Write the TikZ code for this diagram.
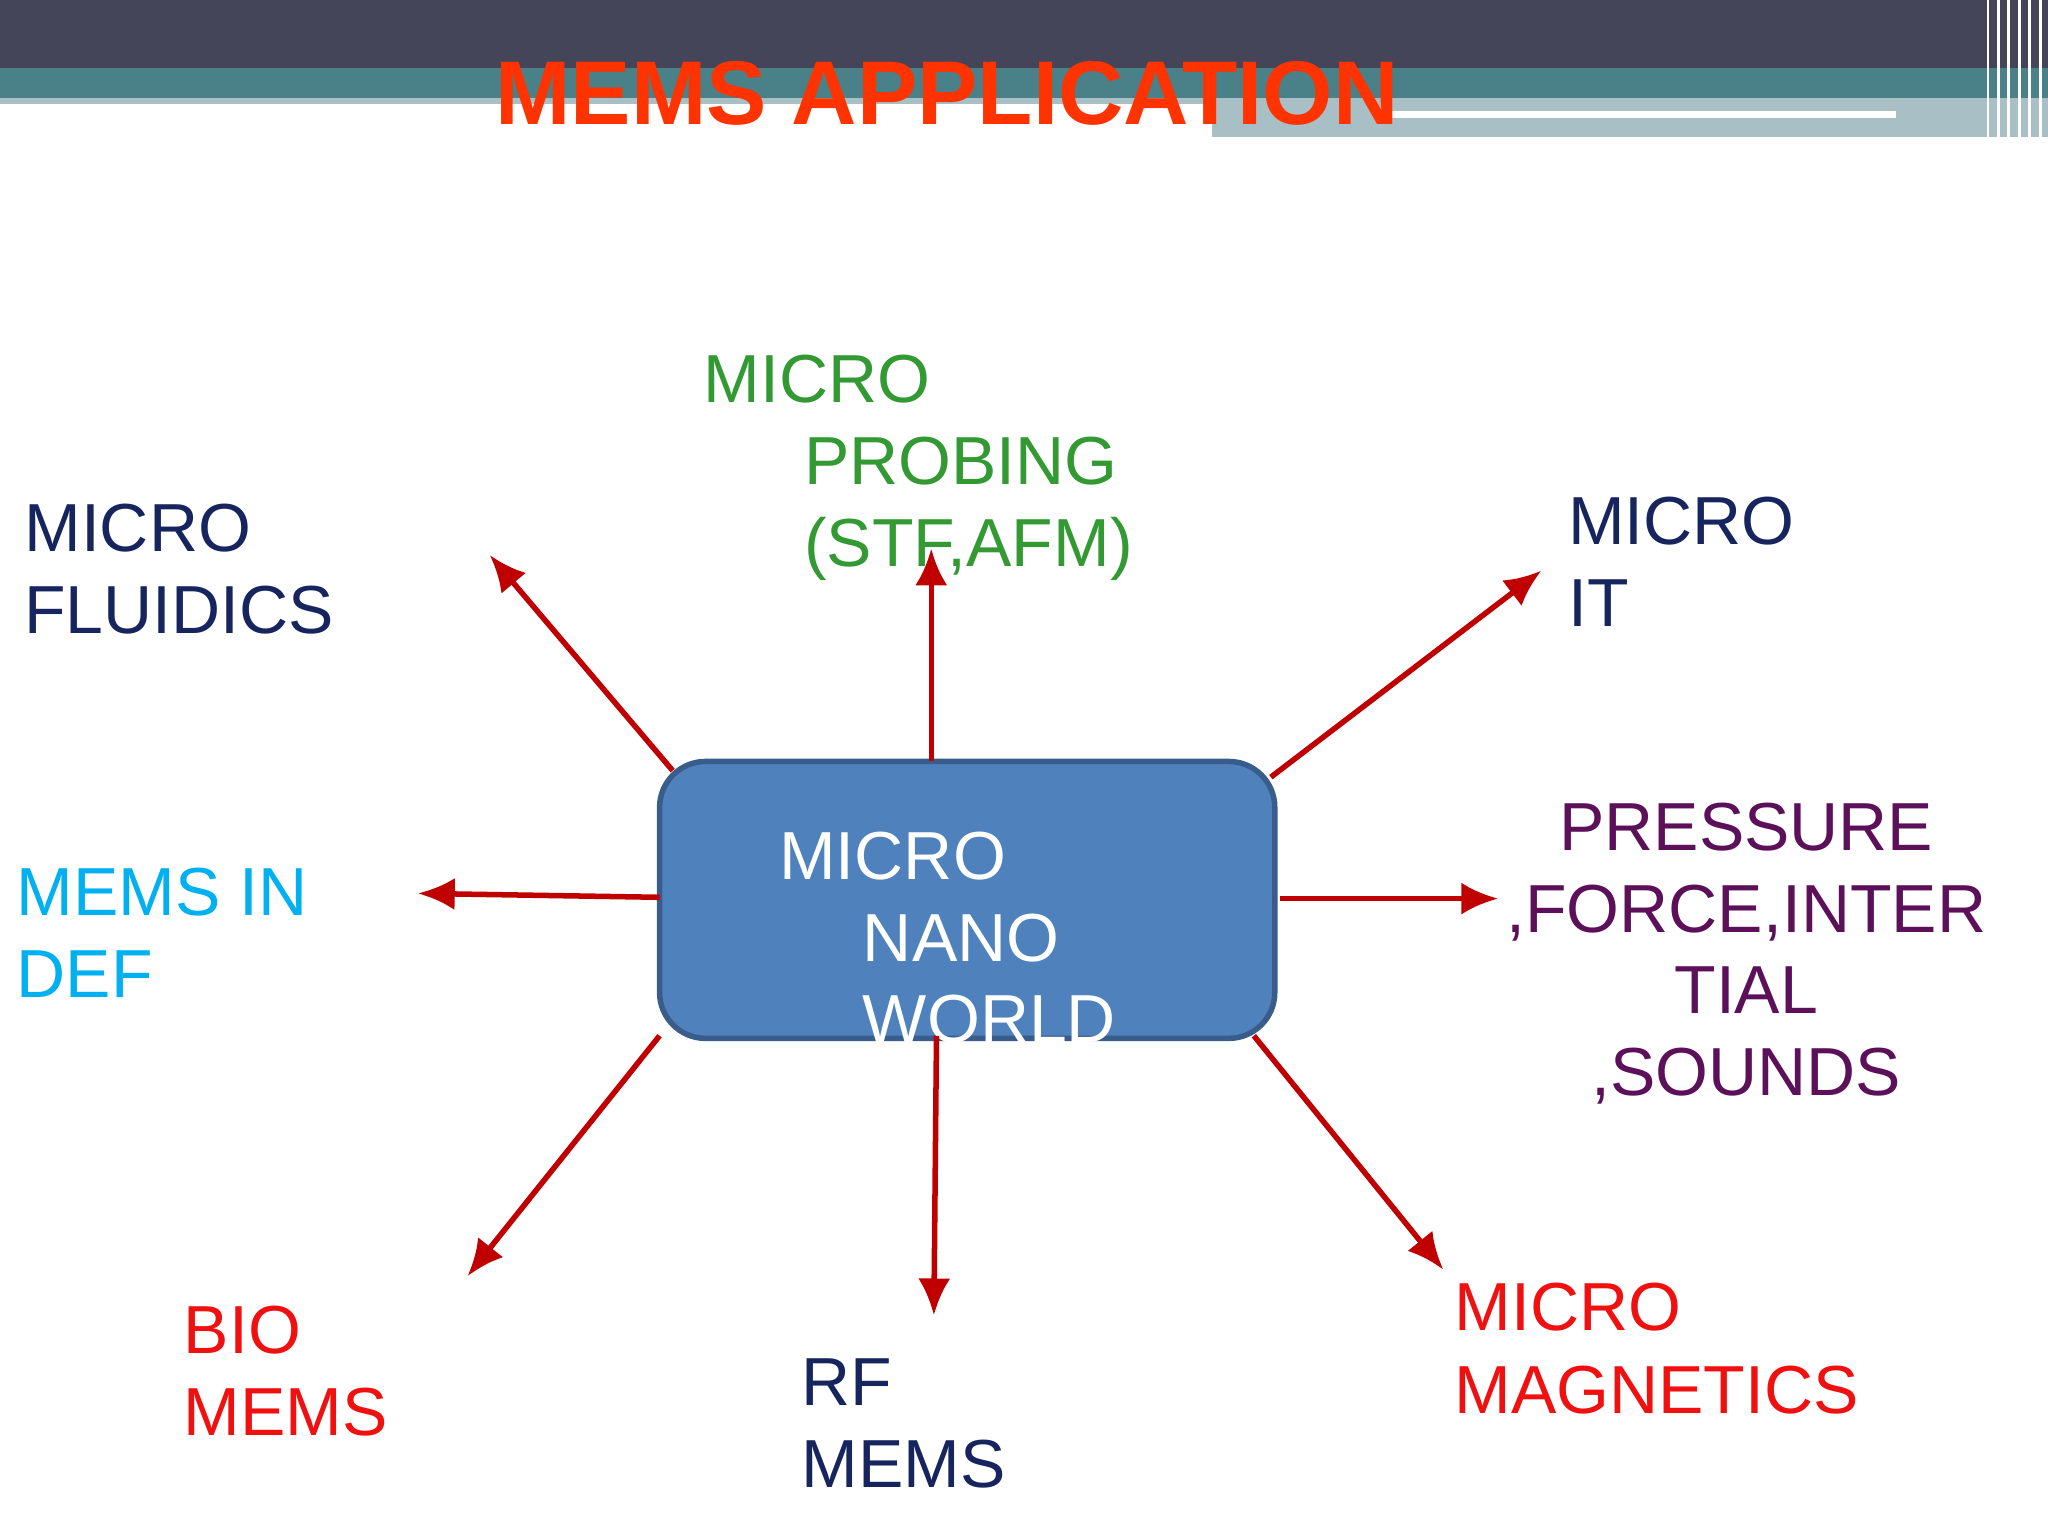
\documentclass[tikz,border=0pt]{standalone}
\usetikzlibrary{arrows.meta}
\usepackage{fontspec}
\setmainfont{Liberation Sans}
\definecolor{hdark}{HTML}{45455A}
\definecolor{hteal}{HTML}{4A8088}
\definecolor{hlight}{HTML}{A8BFC5}
\definecolor{boxfill}{HTML}{4F81BD}
\definecolor{boxline}{HTML}{385D8A}
\definecolor{arr}{HTML}{C00000}
\definecolor{cgreen}{HTML}{339933}
\definecolor{cnavy}{HTML}{17255E}
\definecolor{cpurple}{HTML}{5C1059}
\definecolor{ccyan}{HTML}{00B0F0}
\definecolor{cred}{HTML}{F01010}
\definecolor{ctitle}{HTML}{FF3300}
\begin{document}
\begin{tikzpicture}[x=0.01cm,y=-0.01cm,
  lbl/.style={anchor=base west,inner sep=0pt,font=\fontsize{14.8}{17}\selectfont},
  lblc/.style={anchor=base,inner sep=0pt,font=\fontsize{14.8}{17}\selectfont},
  arrw/.style={draw=arr,line width=1.2pt,-{Latex[length=8pt,width=7pt]}}]
\useasboundingbox (0,0) rectangle (1568,1176);
\fill[white] (0,0) rectangle (1568,1176);
% header
\fill[hdark] (0,0) rectangle (1568,52);
\fill[hteal] (0,52) rectangle (1568,75);
\fill[hlight] (0,75) rectangle (1568,80);
\fill[hlight] (928,80) rectangle (1568,105);
\fill[white] (1060,85) rectangle (1452,90);
\foreach \xx in {1522,1530,1538,1546,1554,1562}
  \draw[white,line width=0.6pt] (\xx,0) -- (\xx,105);
\node[anchor=base,inner sep=0pt,text=ctitle,font=\fontsize{19.7}{22}\selectfont\bfseries] (title) at (725,95) {MEMS APPLICATION};
% box
\fill[boxfill,draw=boxline,line width=1.2pt,rounded corners=10pt] (505,583) rectangle (976,795);
\coordinate (box) at (740,689);
\node[lbl,text=white] (b1) at (596,673) {MICRO};
\node[lbl,text=white] (b2) at (660,736) {NANO};
\node[lbl,text=white] (b3) at (660,798) {WORLD};
% labels
\node[lbl,text=cgreen] (g1) at (538,308) {MICRO};
\node[lbl,text=cgreen] (g2) at (615,371) {PROBING};
\node[lbl,text=cgreen] (g3) at (615,434) {(STF,AFM)};
\node[lbl,text=cnavy] (f1) at (18,422) {MICRO};
\node[lbl,text=cnavy] (f2) at (18,485) {FLUIDICS};
\node[lbl,text=cnavy] (i1) at (1200,417) {MICRO};
\node[lbl,text=cnavy] (i2) at (1200,480) {IT};
\node[lblc,text=cpurple] (p1) at (1337,651) {PRESSURE};
\node[lblc,text=cpurple] (p2) at (1337,714) {,FORCE,INTER};
\node[lblc,text=cpurple] (p3) at (1337,776) {TIAL};
\node[lblc,text=cpurple] (p4) at (1337,839) {,SOUNDS};
\node[lbl,text=ccyan] (d1) at (12,701) {MEMS IN};
\node[lbl,text=ccyan] (d2) at (12,764) {DEF};
\node[lbl,text=cred] (bi1) at (140,1036) {BIO};
\node[lbl,text=cred] (bi2) at (140,1099) {MEMS};
\node[lbl,text=cnavy] (r1) at (613,1076) {RF};
\node[lbl,text=cnavy] (r2) at (613,1139) {MEMS};
\node[lbl,text=cred] (m1) at (1113,1019) {MICRO};
\node[lbl,text=cred] (m2) at (1113,1082) {MAGNETICS};
% arrows
\coordinate (s1) at (515,590); \coordinate (e1) at (375,425);
\coordinate (s2) at (713,583); \coordinate (e2) at (713,420);
\coordinate (s3) at (973,595); \coordinate (e3) at (1180,437);
\coordinate (s4) at (980,688); \coordinate (e4) at (1147,688);
\coordinate (s5) at (960,793); \coordinate (e5) at (1105,972);
\coordinate (s6) at (717,793); \coordinate (e6) at (715,1007);
\coordinate (s7) at (505,793); \coordinate (e7) at (358,977);
\coordinate (s8) at (505,687); \coordinate (e8) at (320,684);
\foreach \k in {1,...,8} \draw[arrw] (s\k) -- (e\k);
\end{tikzpicture}
\end{document}
